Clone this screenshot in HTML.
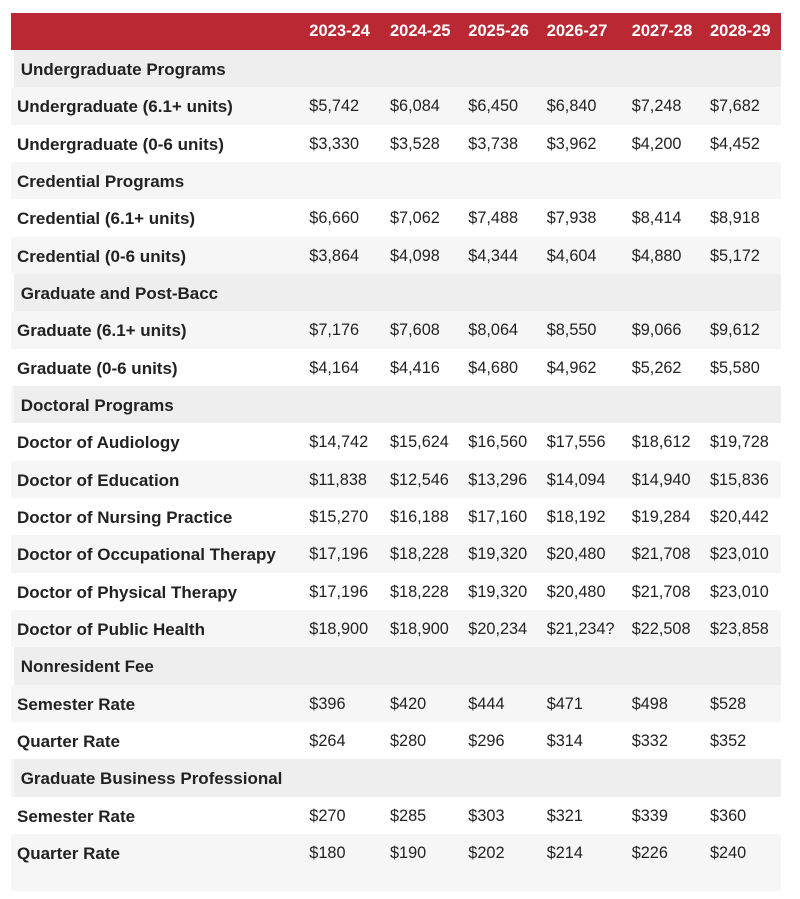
<!DOCTYPE html>
<html>
<head>
<meta charset="utf-8">
<style>
  html, body { margin:0; padding:0; background:#fff; }
  body { width:800px; height:899px; position:relative; overflow:hidden;
         font-family:"Liberation Sans", Arial, sans-serif; color:#222; }
  .r { position:absolute; left:11px; width:770px; height:37.33px; background:#fff; }
  .e { background:#f6f6f6; }
  .h { background:#ba2833; }
  .sec { position:absolute; left:3px; top:0; width:767px; height:100%; background:#eeeeee; }
  .t { position:absolute; top:1px; line-height:37.33px; white-space:nowrap; }
  .lb { left:6px; font-weight:bold; font-size:17px; }
  .sl { left:9.7px; font-weight:bold; font-size:17px; }
  .d { font-size:16.3px; }
  .hd { font-weight:bold; font-size:16.5px; color:#fff; top:0.5px; }
  .c1 { left:298.3px; } .c2 { left:379px; } .c3 { left:457.3px; }
  .c4 { left:535.7px; } .c5 { left:620.7px; } .c6 { left:699px; }
</style>
</head>
<body>

<div class="r h" style="top:12.67px;">
  <span class="t hd c1">2023-24</span><span class="t hd c2">2024-25</span><span class="t hd c3">2025-26</span><span class="t hd c4">2026-27</span><span class="t hd c5">2027-28</span><span class="t hd c6">2028-29</span>
</div>

<div class="r" style="top:50px;"><div class="sec"></div><span class="t sl">Undergraduate Programs</span></div>

<div class="r e" style="top:87.33px;"><span class="t lb">Undergraduate (6.1+ units)</span>
  <span class="t d c1">$5,742</span><span class="t d c2">$6,084</span><span class="t d c3">$6,450</span><span class="t d c4">$6,840</span><span class="t d c5">$7,248</span><span class="t d c6">$7,682</span></div>

<div class="r" style="top:124.67px;"><span class="t lb">Undergraduate (0-6 units)</span>
  <span class="t d c1">$3,330</span><span class="t d c2">$3,528</span><span class="t d c3">$3,738</span><span class="t d c4">$3,962</span><span class="t d c5">$4,200</span><span class="t d c6">$4,452</span></div>

<div class="r e" style="top:162px;"><span class="t lb">Credential Programs</span></div>

<div class="r" style="top:199.33px;"><span class="t lb">Credential (6.1+ units)</span>
  <span class="t d c1">$6,660</span><span class="t d c2">$7,062</span><span class="t d c3">$7,488</span><span class="t d c4">$7,938</span><span class="t d c5">$8,414</span><span class="t d c6">$8,918</span></div>

<div class="r e" style="top:236.67px;"><span class="t lb">Credential (0-6 units)</span>
  <span class="t d c1">$3,864</span><span class="t d c2">$4,098</span><span class="t d c3">$4,344</span><span class="t d c4">$4,604</span><span class="t d c5">$4,880</span><span class="t d c6">$5,172</span></div>

<div class="r" style="top:274px;"><div class="sec"></div><span class="t sl">Graduate and Post-Bacc</span></div>

<div class="r e" style="top:311.33px;"><span class="t lb">Graduate (6.1+ units)</span>
  <span class="t d c1">$7,176</span><span class="t d c2">$7,608</span><span class="t d c3">$8,064</span><span class="t d c4">$8,550</span><span class="t d c5">$9,066</span><span class="t d c6">$9,612</span></div>

<div class="r" style="top:348.67px;"><span class="t lb">Graduate (0-6 units)</span>
  <span class="t d c1">$4,164</span><span class="t d c2">$4,416</span><span class="t d c3">$4,680</span><span class="t d c4">$4,962</span><span class="t d c5">$5,262</span><span class="t d c6">$5,580</span></div>

<div class="r e" style="top:386px;"><div class="sec"></div><span class="t sl">Doctoral Programs</span></div>

<div class="r" style="top:423.33px;"><span class="t lb">Doctor of Audiology</span>
  <span class="t d c1">$14,742</span><span class="t d c2">$15,624</span><span class="t d c3">$16,560</span><span class="t d c4">$17,556</span><span class="t d c5">$18,612</span><span class="t d c6">$19,728</span></div>

<div class="r e" style="top:460.67px;"><span class="t lb">Doctor of Education</span>
  <span class="t d c1">$11,838</span><span class="t d c2">$12,546</span><span class="t d c3">$13,296</span><span class="t d c4">$14,094</span><span class="t d c5">$14,940</span><span class="t d c6">$15,836</span></div>

<div class="r" style="top:498px;"><span class="t lb">Doctor of Nursing Practice</span>
  <span class="t d c1">$15,270</span><span class="t d c2">$16,188</span><span class="t d c3">$17,160</span><span class="t d c4">$18,192</span><span class="t d c5">$19,284</span><span class="t d c6">$20,442</span></div>

<div class="r e" style="top:535.33px;"><span class="t lb">Doctor of Occupational Therapy</span>
  <span class="t d c1">$17,196</span><span class="t d c2">$18,228</span><span class="t d c3">$19,320</span><span class="t d c4">$20,480</span><span class="t d c5">$21,708</span><span class="t d c6">$23,010</span></div>

<div class="r" style="top:572.67px;"><span class="t lb">Doctor of Physical Therapy</span>
  <span class="t d c1">$17,196</span><span class="t d c2">$18,228</span><span class="t d c3">$19,320</span><span class="t d c4">$20,480</span><span class="t d c5">$21,708</span><span class="t d c6">$23,010</span></div>

<div class="r e" style="top:610px;"><span class="t lb">Doctor of Public Health</span>
  <span class="t d c1">$18,900</span><span class="t d c2">$18,900</span><span class="t d c3">$20,234</span><span class="t d c4">$21,234?</span><span class="t d c5">$22,508</span><span class="t d c6">$23,858</span></div>

<div class="r" style="top:647.33px;"><div class="sec"></div><span class="t sl">Nonresident Fee</span></div>

<div class="r e" style="top:684.67px;"><span class="t lb">Semester Rate</span>
  <span class="t d c1">$396</span><span class="t d c2">$420</span><span class="t d c3">$444</span><span class="t d c4">$471</span><span class="t d c5">$498</span><span class="t d c6">$528</span></div>

<div class="r" style="top:722px;"><span class="t lb">Quarter Rate</span>
  <span class="t d c1">$264</span><span class="t d c2">$280</span><span class="t d c3">$296</span><span class="t d c4">$314</span><span class="t d c5">$332</span><span class="t d c6">$352</span></div>

<div class="r e" style="top:759.33px;"><div class="sec"></div><span class="t sl">Graduate Business Professional</span></div>

<div class="r" style="top:796.67px;"><span class="t lb">Semester Rate</span>
  <span class="t d c1">$270</span><span class="t d c2">$285</span><span class="t d c3">$303</span><span class="t d c4">$321</span><span class="t d c5">$339</span><span class="t d c6">$360</span></div>

<div class="r e" style="top:834px; height:57.33px;"><span class="t lb">Quarter Rate</span>
  <span class="t d c1">$180</span><span class="t d c2">$190</span><span class="t d c3">$202</span><span class="t d c4">$214</span><span class="t d c5">$226</span><span class="t d c6">$240</span></div>

</body>
</html>
